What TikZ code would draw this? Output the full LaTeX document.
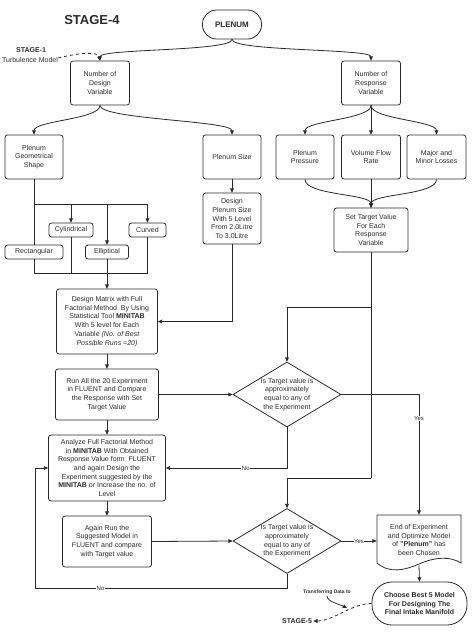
\documentclass[tikz,border=0pt]{standalone}
\usepackage{fontspec}
\setmainfont{Liberation Sans}
\usetikzlibrary{arrows.meta,shapes.geometric}
\definecolor{ln}{HTML}{2A2A2A}
\newcommand{\fsA}{\fontsize{7}{8.7}\selectfont}
\newcommand{\fsB}{\fontsize{6}{6.5}\selectfont}
\begin{document}
\begin{tikzpicture}[x=1pt,y=-1pt,
  line width=0.8pt, color=ln,
  box/.style={draw, rounded corners=2.5pt, align=center, font=\fsA, inner sep=1pt},
  termbox/.style={draw, rounded corners=14pt, align=center, inner sep=1pt},
  arr/.style={-{Triangle[length=4.2pt,width=3.8pt]}},
  dia/.style={draw, diamond, inner sep=0pt, minimum width=108pt, minimum height=65pt},
  lbl/.style={fill=white, inner sep=0.6pt, font=\fsB},
  dtext/.style={font=\fsA, align=center}
]
\useasboundingbox (0,0) rectangle (474,641);

% titles
\node (st4) at (92,20) {\fontsize{13}{14}\selectfont\bfseries STAGE-4};
\node[termbox, minimum width=59pt, minimum height=29pt, font=\fontsize{8}{9}\selectfont\bfseries] (plen) at (232,24.5) {PLENUM};
\node[font=\fsA\bfseries, inner sep=0pt] (s1) at (31,50) {STAGE-1};
\node[font=\fsA, inner sep=0pt] (turb) at (30,60) {Turbulence Model};

% level 1
\node[box, minimum width=59pt, minimum height=44pt] (ndv) at (100,83) {Number of\\Design\\Variable};
\node[box, minimum width=59pt, minimum height=44pt] (nrv) at (371,83) {Number of\\Response\\Variable};

% level 2
\node[box, minimum width=58pt, minimum height=44pt] (pgs) at (34,157) {Plenum\\Geometrical\\Shape};
\node[box, minimum width=58pt, minimum height=44pt] (psz) at (232,157) {Plenum Size};
\node[box, minimum width=58pt, minimum height=44pt] (ppr) at (305,157) {Plenum\\Pressure};
\node[box, minimum width=59pt, minimum height=44pt] (vfr) at (371,157) {Volume Flow\\Rate};
\node[box, minimum width=59pt, minimum height=44pt] (mml) at (436.5,157) {Major and\\Minor Losses};

\node[box, minimum width=58pt, minimum height=51pt] (dps) at (232,218.5) {Design\\Plenum Size\\With 5 Level\\From 2.0Litre\\To 3.0Litre};
\node[box, minimum width=74pt, minimum height=44pt] (stv) at (371,230) {Set Target Value\\For Each\\Response\\Variable};

% shapes
\node[box, minimum width=44pt, minimum height=14pt] (cyl) at (71,230) {Cylindrical};
\node[box, minimum width=37pt, minimum height=14pt] (cur) at (147.5,230) {Curved};
\node[box, minimum width=58pt, minimum height=14pt] (rect) at (34,252) {Rectangular};
\node[box, minimum width=43pt, minimum height=14pt] (ell) at (107,252) {Elliptical};

% main column
\node[box, minimum width=101pt, minimum height=65pt] (dm) at (107,321.5) {Design Matrix with Full\\Factorial Method\ \ By Using\\Statistical Tool \textbf{MINITAB}\\With 5 level for Each\\Variable \textit{(No. of Best}\\\textit{Possible Runs =20)}};
\node[box, minimum width=103pt, minimum height=51pt] (run) at (107,394.5) {Run All the 20 Experiment\\in FLUENT and Compare\\the Response with Set\\Target Value};
\node[box, minimum width=117pt, minimum height=66pt] (ana) at (107,468) {Analyze Full Factorial Method\\in \textbf{MINITAB} With Obtained\\Response Value form\ \ FLUENT\\and again Design the\\Experiment suggested by the\\\textbf{MINITAB} or Increase the no. of\\Level};
\node[box, minimum width=89pt, minimum height=51pt] (arun) at (107,541.5) {Again Run the\\Suggested Model in\\FLUENT and compare\\with Target value};

% decisions
\node[dia, label={[dtext]center:Is Target value is\\approximately\\equal to any of\\the Experiment}] (d1) at (287,394.5) {};
\node[dia, label={[dtext]center:Is Target value is\\approximately\\equal to any of\\the Experiment}] (d2) at (287,541) {};

% end document shape
\node[dtext, minimum width=84pt, minimum height=50pt, inner sep=0pt] (endb) at (419,540) {End of Experiment\\and Optimize Model\\of \textbf{"Plenum"} has\\been Chosen};
\draw (377,515) -- (461,515) -- (461,563) .. controls (450,556) and (435,557) .. (419,564) .. controls (405,570) and (390,574) .. (377,563) -- cycle;

\node[termbox, minimum width=95pt, minimum height=43pt, rounded corners=20pt, font=\fsA\bfseries] (term) at (419.5,603.5) {Choose Best 5 Model\\For Designing The\\Final Intake Manifold};
\node[font=\fontsize{5}{6}\selectfont\bfseries, inner sep=1pt] (trans) at (327,592) {Transferring Data to};
\node[font=\fsA\bfseries, inner sep=1pt] (st5) at (297,621) {STAGE-5};

% coordinates
\coordinate (t1) at (34,204);
\coordinate (b1) at (107,273);
\coordinate (j1) at (371,307);
\coordinate (j2) at (371,478);
\coordinate (lp) at (35,588);
\coordinate (tp) at (347,608);

% connectors top
\draw[arr] (plen.south) .. controls +(0,12) and +(0,-12) .. (ndv.north);
\draw[arr] (plen.south) .. controls +(0,12) and +(0,-12) .. (nrv.north);
\draw[arr, dashed] ([yshift=2pt]turb.east) .. controls (82,52) and (98,52) .. (ndv.north);
\draw[arr] (ndv.south) .. controls +(0,14) and +(0,-14) .. (pgs.north);
\draw[arr] (ndv.south) .. controls +(0,14) and +(0,-14) .. (psz.north);
\draw[arr] (nrv.south) .. controls +(0,14) and +(0,-14) .. (ppr.north);
\draw[arr] (nrv.south) -- (vfr.north);
\draw[arr] (nrv.south) .. controls +(0,14) and +(0,-14) .. (mml.north);
\draw[arr] (ppr.south) .. controls +(0,16) and +(0,-14) .. (stv.north);
\draw[arr] (vfr.south) -- (stv.north);
\draw[arr] (mml.south) .. controls +(0,16) and +(0,-14) .. (stv.north);
\draw[arr] (psz.south) -- (dps.north);

% shape bus
\draw (pgs.south) -- (rect.north);
\draw[arr] (t1) -| (cyl.north);
\draw[arr] (t1) -| (ell.north);
\draw[arr] (t1) -| (cur.north);
\draw (rect.south) |- (b1);
\draw (cyl.south) |- (b1);
\draw (cur.south) |- (b1);
\draw[arr] (ell.south) -- (dm.north);
\draw[arr] (dps.south) |- (dm.east);

% main flow
\draw[arr] (dm.south) -- (run.north);
\draw[arr] (run.south) -- (ana.north);
\draw[arr] (ana.south) -- (arun.north);
\draw[arr] (run.east) -- (d1.west);
\draw[arr] (arun.east) -- (d2.west);
\draw (stv.south) -- (j2);
\draw[arr] (j1) -| (d1.north);
\draw[arr] (j2) -| (d2.north);
\draw[arr] (d1.east) -| node[lbl, pos=0.6] (y1) {Yes} (endb.north);
\draw[arr] (d1.south) |- node[lbl, pos=0.67] (n1) {No} (ana.east);
\draw[arr] (d2.south) |- node[lbl, pos=0.87] (n2) {No} (lp) |- (ana.west);
\draw[arr] (d2.east) -- node[lbl] (y2) {Yes} (d2.east -| endb.west);
\draw[arr] (endb.south) -- (term.north);

% stage 5
\draw[arr, dashed] (term.west) .. controls +(-20,0) and +(20,0) .. (st5.east);
\draw[arr] (trans.south) .. controls +(0,6) and +(-8,-4) .. (tp);
\end{tikzpicture}
\end{document}
